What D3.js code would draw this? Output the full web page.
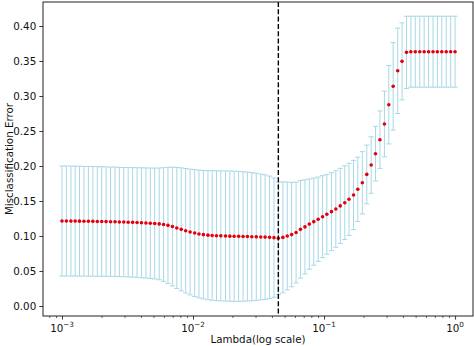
<!DOCTYPE html>
<html>
<head>
<meta charset="utf-8">
<script src="https://cdn.jsdelivr.net/npm/d3@7"></script>
<style>
  html, body { margin: 0; padding: 0; background: #fff; }
  svg { display: block; font-family: "DejaVu Sans", sans-serif; }
</style>
</head>
<body>
<svg id="chart" width="474" height="346"></svg>
<script>
// Regularisation path: lambda grid (log spaced), cross-validated error mean and spread
const lambdas = [
  0.00100,0.00108,0.00117,0.00126,0.00136,0.00147,0.00159,0.00172,0.00186,0.00201,
  0.00217,0.00235,0.00254,0.00274,0.00296,0.00320,0.00346,0.00374,0.00404,0.00437,
  0.00472,0.00510,0.00552,0.00596,0.00644,0.00696,0.00752,0.00813,0.00879,0.00950,
  0.0103,0.0111,0.0120,0.0130,0.0140,0.0151,0.0163,0.0177,0.0191,0.0206,
  0.0223,0.0241,0.0260,0.0281,0.0304,0.0329,0.0355,0.0384,0.0415,0.0448,
  0.0485,0.0524,0.0566,0.0612,0.0661,0.0715,0.0772,0.0835,0.0902,0.0975,
  0.105,0.114,0.123,0.133,0.144,0.155,0.168,0.181,0.196,0.212,
  0.229,0.247,0.267,0.289,0.312,0.337,0.365,0.394,0.426,0.460,
  0.497,0.538,0.581,0.628,0.679,0.733,0.792,0.856,0.926,1.000
];

const meanError = [
  0.1214,0.1214,0.1213,0.1213,0.1212,0.1211,0.1210,0.1209,0.1208,0.1207,
  0.1206,0.1204,0.1203,0.1201,0.1199,0.1197,0.1195,0.1192,0.1189,0.1186,
  0.1182,0.1178,0.1173,0.1165,0.1152,0.1135,0.1115,0.1095,0.1075,0.1057,
  0.1042,0.1029,0.1019,0.1012,0.1007,0.1004,0.1002,0.1000,0.0998,0.0996,
  0.0995,0.0993,0.0992,0.0990,0.0988,0.0986,0.0984,0.0981,0.0976,0.0967,
  0.0980,0.1000,0.1020,0.1050,0.1095,0.1130,0.1170,0.1205,0.1240,0.1276,
  0.1310,0.1348,0.1386,0.1430,0.1476,0.1524,0.1586,0.1667,0.1760,0.1880,
  0.2014,0.2176,0.2376,0.2600,0.2876,0.3138,0.3360,0.3495,0.3624,0.3633,
  0.3633,0.3633,0.3633,0.3633,0.3633,0.3633,0.3633,0.3633,0.3633,0.3633
];

const stdError = [
  0.0786,0.0786,0.0785,0.0785,0.0785,0.0784,0.0784,0.0783,0.0783,0.0782,
  0.0782,0.0781,0.0781,0.0780,0.0780,0.0781,0.0782,0.0783,0.0785,0.0787,
  0.0789,0.0792,0.0798,0.0812,0.0830,0.0848,0.0864,0.0878,0.0889,0.0898,
  0.0906,0.0913,0.0918,0.0922,0.0925,0.0927,0.0929,0.0930,0.0930,0.0930,
  0.0928,0.0925,0.0921,0.0916,0.0908,0.0899,0.0889,0.0875,0.0852,0.0805,
  0.0793,0.0770,0.0745,0.0720,0.0697,0.0672,0.0645,0.0622,0.0602,0.0585,
  0.0570,0.0557,0.0547,0.0537,0.0527,0.0516,0.0495,0.0460,0.0445,0.0420,
  0.0404,0.0390,0.0410,0.0470,0.0560,0.0625,0.0610,0.0550,0.0516,0.0507,
  0.0507,0.0507,0.0507,0.0507,0.0507,0.0507,0.0507,0.0507,0.0507,0.0507
];

const yTickValues = [0.00, 0.05, 0.10, 0.15, 0.20, 0.25, 0.30, 0.35, 0.40];
const xTickValues = [0.001, 0.01, 0.1, 1];
const xTickExponents = ["\u22123", "\u22122", "\u22121", "0"];
const xLabel = "Lambda(log scale)";
const yLabel = "Misclassification Error";

const svg = d3.select("#chart");
const plot = { left: 43, right: 473, top: 2, bottom: 316 };
const fontSize = 10.3;

const x = d3.scaleLog()
  .domain([Math.pow(10, -3.145), Math.pow(10, 0.137)])
  .range([plot.left, plot.right]);
const y = d3.scaleLinear()
  .domain([-0.0143, 0.4343])
  .range([plot.bottom, plot.top]);

const rows = lambdas.map((l, i) => ({ l, m: meanError[i], s: stdError[i] }));

// error bars with caps
const barColor = "#a8d8e6";
const cap = 2.6;
const bars = svg.append("g").attr("stroke", barColor).attr("stroke-width", 1);
bars.selectAll("line.v").data(rows).join("line").attr("class", "v")
  .attr("x1", d => x(d.l)).attr("x2", d => x(d.l))
  .attr("y1", d => y(d.m - d.s)).attr("y2", d => y(d.m + d.s));
bars.selectAll("line.top").data(rows).join("line").attr("class", "top")
  .attr("x1", d => x(d.l) - cap).attr("x2", d => x(d.l) + cap)
  .attr("y1", d => y(d.m + d.s)).attr("y2", d => y(d.m + d.s));
bars.selectAll("line.bot").data(rows).join("line").attr("class", "bot")
  .attr("x1", d => x(d.l) - cap).attr("x2", d => x(d.l) + cap)
  .attr("y1", d => y(d.m - d.s)).attr("y2", d => y(d.m - d.s));

// mean error markers
svg.append("g").selectAll("circle").data(rows).join("circle")
  .attr("cx", d => x(d.l)).attr("cy", d => y(d.m))
  .attr("r", 1.8).attr("fill", "#e3000b");

// best lambda (minimum mean error)
const best = d3.minIndex(meanError);
svg.append("line")
  .attr("x1", x(lambdas[best])).attr("x2", x(lambdas[best]))
  .attr("y1", plot.top).attr("y2", plot.bottom)
  .attr("stroke", "#000").attr("stroke-width", 1.4)
  .attr("stroke-dasharray", "5,2.3");

// y axis
const yAxis = svg.append("g")
  .attr("transform", `translate(${plot.left},0)`)
  .call(d3.axisLeft(y).tickValues(yTickValues).tickFormat(d3.format(".2f"))
    .tickSize(3.6).tickPadding(3.2));
yAxis.select(".domain").remove();
yAxis.selectAll("text").attr("font-size", fontSize).attr("font-family", "DejaVu Sans").attr("fill", "#111");
yAxis.selectAll("line").attr("stroke", "#222").attr("stroke-width", 0.9);

// x axis: major ticks
const xAxis = svg.append("g")
  .attr("transform", `translate(0,${plot.bottom})`)
  .call(d3.axisBottom(x).tickValues(xTickValues).tickFormat(() => "").tickSize(3.6));
xAxis.select(".domain").remove();
xAxis.selectAll("line").attr("stroke", "#222").attr("stroke-width", 0.9);

// x axis: minor ticks
const minorTicks = x.ticks().filter(v => !xTickValues.some(t => Math.abs(t - v) < 1e-12));
const xMinor = svg.append("g")
  .attr("transform", `translate(0,${plot.bottom})`)
  .call(d3.axisBottom(x).tickValues(minorTicks).tickFormat(() => "").tickSize(2));
xMinor.select(".domain").remove();
xMinor.selectAll("line").attr("stroke", "#222").attr("stroke-width", 0.7);

// x tick labels as 10 with superscript exponent
const xl = svg.append("g").attr("font-size", fontSize).attr("fill", "#111");
xTickValues.forEach((v, i) => {
  const t = xl.append("text")
    .attr("x", x(v)).attr("y", plot.bottom + 15.5)
    .attr("text-anchor", "middle");
  t.append("tspan").text("10");
  t.append("tspan").attr("dy", -4.2).attr("font-size", fontSize * 0.7).text(xTickExponents[i]);
});

// frame
svg.append("rect")
  .attr("x", plot.left).attr("y", plot.top)
  .attr("width", plot.right - plot.left).attr("height", plot.bottom - plot.top)
  .attr("fill", "none").attr("stroke", "#222").attr("stroke-width", 1);

// axis titles
svg.append("text")
  .attr("x", (plot.left + plot.right) / 2).attr("y", 343)
  .attr("text-anchor", "middle").attr("font-size", fontSize).attr("fill", "#111")
  .text(xLabel);
svg.append("text")
  .attr("transform", `translate(13,${(plot.top + plot.bottom) / 2}) rotate(-90)`)
  .attr("text-anchor", "middle").attr("font-size", fontSize).attr("fill", "#111")
  .text(yLabel);
</script>
</body>
</html>
